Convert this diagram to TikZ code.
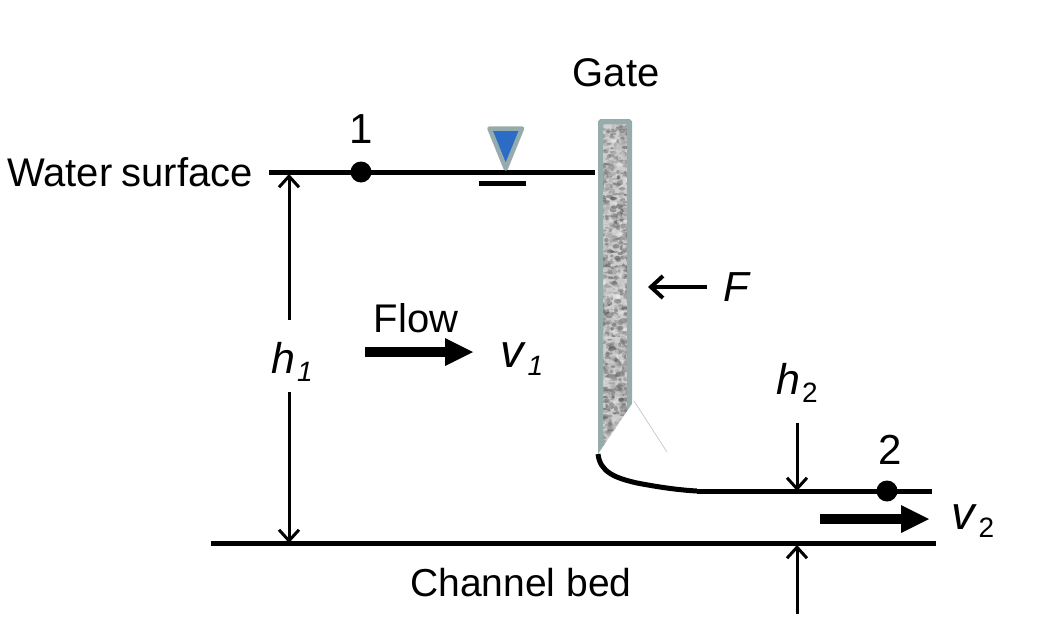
\documentclass[tikz,border=0pt]{standalone}
\usepackage{fontspec}
\setmainfont{Liberation Sans}
\usetikzlibrary{arrows.meta}
\definecolor{gateedge}{RGB}{150,172,172}
\definecolor{gatefill}{RGB}{205,205,205}
\definecolor{waterblue}{RGB}{43,108,196}
\newcommand{\sym}[2]{{\fontsize{43}{46}\selectfont\textit{#1}}\hspace{2pt}\raisebox{-8pt}{\fontsize{28}{30}\selectfont #2}}
\newcommand{\symv}[2]{{\fontsize{47}{50}\selectfont\textit{#1}}\hspace{1pt}\raisebox{-8pt}{\fontsize{28}{30}\selectfont #2}}
\tikzset{
  lbl/.style = {inner sep=0pt, font=\fontsize{40}{44}\selectfont},
  digit/.style = {lbl, font=\fontsize{42}{46}\selectfont},
  thick line/.style = {line width=5pt},
  dim/.style = {line width=3pt, -{Straight Barb[length=11pt,width=20pt,line width=3pt]}},
  force/.style = {line width=4pt, -{Straight Barb[length=12pt,width=22pt,line width=4pt]}},
  bigarrow/.style = {line width=10pt, -{Triangle[length=28pt,width=28pt,line width=0pt]}},
  dot/.style = {circle, fill=black, inner sep=0pt, minimum size=21pt},
}
\begin{document}
\begin{tikzpicture}[x=1pt,y=-1pt]
  \useasboundingbox (0,0) rectangle (1042,624);

  % Gate with its speckled face
  \node (gate) at (615,288) [draw=gateedge, line width=5pt, fill=gatefill, rounded corners=1pt,
     inner sep=0pt, minimum width=29pt, minimum height=333pt, path picture={
       \pgfmathsetseed{4711}
       \foreach \i in {1,...,1300}{
         \pgfmathsetmacro{\px}{-15+rnd*30}
         \pgfmathsetmacro{\py}{-168+rnd*336}
         \pgfmathsetmacro{\sh}{int(5+rnd*70)}
         \pgfmathsetmacro{\rx}{1.2+rnd*3}
         \pgfmathsetmacro{\ry}{0.8+rnd*2}
         \fill[black!\sh!white, opacity=0.45] (\px,\py) ellipse [x radius=\rx pt, y radius=\ry pt];
       }
     }] {};
  % Cut-away at the gate lip
  \fill[white] (597.5,455) -- (634,401) -- (667,452) -- (640,462) -- (597.5,462) -- cycle;
  \draw[black!22, line width=0.7pt] (634,401) -- (667,452);

  % Fixed points
  \coordinate (wsL) at (269,172);
  \coordinate (lipL) at (598,454);
  \coordinate (outA) at (697,491);
  \coordinate (outB) at (932,491);
  \coordinate (bedL) at (211,543);
  \coordinate (bedR) at (936,543);
  \coordinate (h1top) at (289,174);
  \coordinate (h1up) at (289,320);
  \coordinate (h1dn) at (289,392);
  \coordinate (h1bot) at (289,543);
  \coordinate (h2out) at (797,491);
  \coordinate (h2bed) at (797,545);
  \coordinate (h2low) at (797,614);
  \coordinate (h2up) at (797,423);
  \coordinate (Fs) at (707,287);
  \coordinate (Fe) at (648,287);
  \coordinate (f1a) at (365,352);
  \coordinate (f1b) at (473,352);
  \coordinate (f2a) at (820,519);
  \coordinate (f2b) at (929,519);
  \coordinate (barA) at (479,183);
  \coordinate (barB) at (526,183);

  % Water surface, outflow surface and bed
  \draw[thick line] (wsL) -- ([xshift=-3.5pt]gate.west |- wsL);
  \draw[thick line] (lipL) .. controls (600,472) and (615,478) .. (637,483) .. controls (658,487) and (678,490) .. (outA);
  \draw[thick line] (outA) -- (outB);
  \draw[thick line] (bedL) -- (bedR);
  \draw[line width=5pt] (barA) -- (barB);

  % Water level symbol
  \path[fill=waterblue, draw=gateedge, line width=4.5pt, line join=round]
     (489.5,128.5) -- (522,128.5) -- (505.7,168.5) -- cycle;

  % Marked points
  \node (p1) at (361,172) [dot] {};
  \node (p2) at (887,491) [dot] {};

  % Labels
  \node (ws) at (130,172) [lbl] {Water\hspace{-2pt} surface};
  \node (n1) at (361,129) [digit] {1};
  \node (n2) at (890,450) [digit] {2};
  \node (gt) at (616,73) [lbl] {Gate};
  \node (fl) at (416,318) [lbl] {Flow};
  \node (cb) at (521,583) [lbl, font=\fontsize{39}{44}\selectfont] {Channel bed};
  \node (F) at (737,287) [digit] {\textit{F}};
  \node (h1) at (292,362) [lbl] {\sym{h}{\textit{1}}};
  \node (v1) at (522,359) [lbl] {\symv{v}{\textit{1}}};
  \node (h2) at (797,383) [lbl] {\sym{h}{2}};
  \node (v2) at (973,521) [lbl] {\symv{v}{2}};

  % Dimension arrows
  \draw[dim] (h1up) -- (h1top);
  \draw[dim] (h1dn) -- (h1bot);
  \draw[dim] (h2up) -- (h2out);
  \draw[dim] (h2low) -- (h2bed);
  \draw[force] (Fs) -- (Fe);

  % Flow arrows
  \draw[bigarrow] (f1a) -- (f1b);
  \draw[bigarrow] (f2a) -- (f2b);
\end{tikzpicture}
\end{document}
